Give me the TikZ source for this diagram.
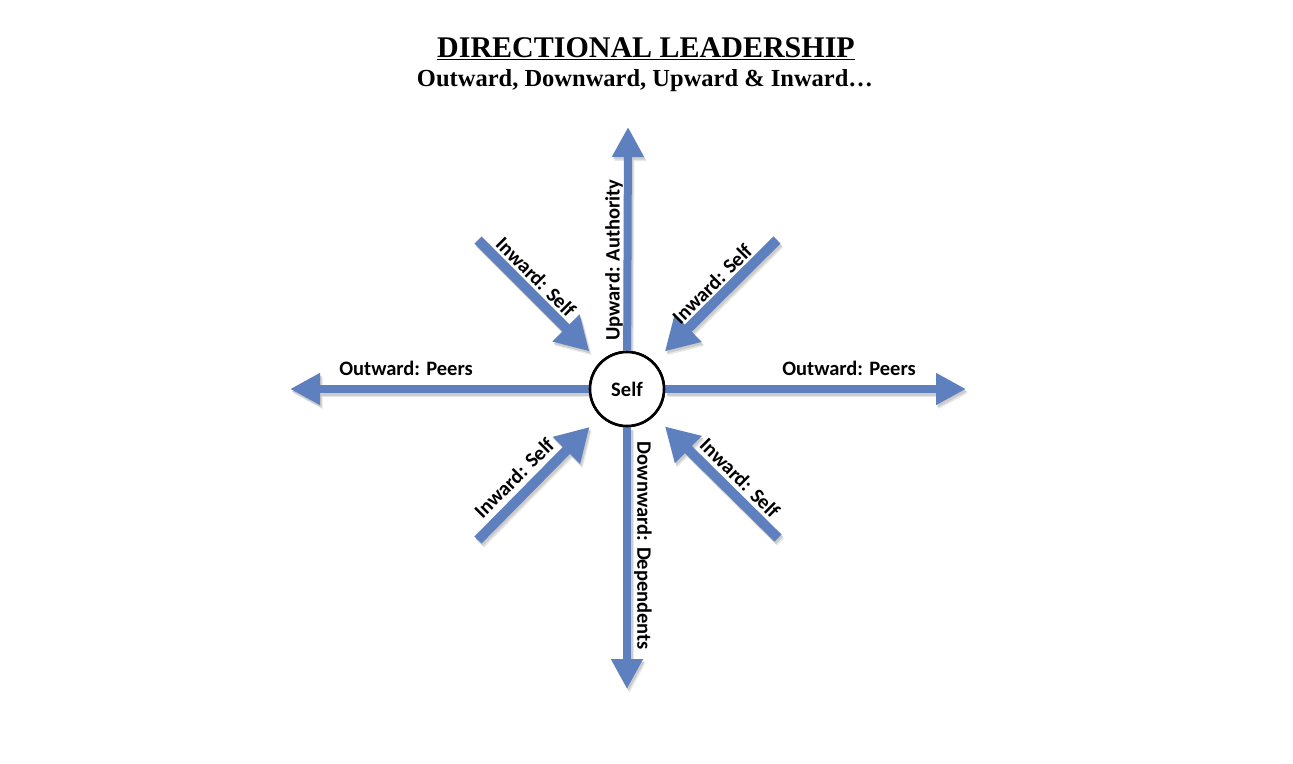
\documentclass[tikz,border=0pt]{standalone}
\usepackage{fontspec}
\setmainfont{Liberation Serif}
\newfontfamily\lblfont{Carlito}
\usetikzlibrary{arrows.meta}
\definecolor{arrowblue}{RGB}{95,128,190}
\newcommand\shadowedarrow[3]{%
  \draw[#1, shadowlinewide] (#2) -- (#3);
  \draw[#1, shadowline] (#2) -- (#3);
  \draw[#1] (#2) -- (#3);}
\begin{document}
\begin{tikzpicture}[x=1pt,y=-1pt,
  outarrow/.style={draw=arrowblue, line width=8pt, -{Triangle[length=30pt,width=30pt]}},
  inarrow/.style={draw=arrowblue, line width=10pt, shorten >=15pt, -{Triangle[length=33pt,width=36pt]}},
  shadowline/.style={draw=black!20, transform canvas={shift={(1.5pt,-2.5pt)}}},
  shadowlinewide/.style={draw=black!9, transform canvas={shift={(2.5pt,-4pt)}}},
  lbl/.style={font=\lblfont\bfseries\fontsize{20.5}{20.5}\selectfont, inner sep=0pt},
  selfnode/.style={draw=black, circle, minimum size=74pt, line width=2.6pt, fill=white, inner sep=0pt, font=\lblfont\bfseries\fontsize{20.5}{20.5}\selectfont}]
\useasboundingbox (0,0) rectangle (1293,763);
\node[selfnode] (self) at (627,389) {Self};
\coordinate (L) at (290,389);
\coordinate (R) at (966,389);
\coordinate (T) at (628,127);
\coordinate (B) at (627,689);
\coordinate (UL) at (478,240);
\coordinate (UR) at (777,240);
\coordinate (LL) at (478,540);
\coordinate (LR) at (778,538);
\shadowedarrow{outarrow}{self}{L}
\shadowedarrow{outarrow}{self}{R}
\shadowedarrow{outarrow}{self}{T}
\shadowedarrow{outarrow}{self}{B}
\shadowedarrow{inarrow}{UL}{self}
\shadowedarrow{inarrow}{UR}{self}
\shadowedarrow{inarrow}{LL}{self}
\shadowedarrow{inarrow}{LR}{self}
\node[selfnode] (self2) at (self) {Self};
\node[lbl] (lo) at (406,368) {Outward: Peers};
\node[lbl] (ro) at (849,368) {Outward: Peers};
\node[lbl, rotate=90] (up) at (614,260) {Upward: Authority};
\node[lbl, rotate=-90] (dn) at (643,546) {Downward: Dependents};
\node[lbl, rotate=-45] (i1) at (536,277) {Inward: Self};
\node[lbl, rotate=45] (i2) at (712,284) {Inward: Self};
\node[lbl, rotate=45] (i3) at (514,478) {Inward: Self};
\node[lbl, rotate=-45] (i4) at (740,478) {Inward: Self};
\node[inner sep=0pt] (title) at (646,49) {\fontsize{30}{30}\selectfont\bfseries\underline{DIRECTIONAL LEADERSHIP}};
\node[inner sep=0pt] (sub) at (645,81) {\fontsize{24.5}{24.5}\selectfont\bfseries Outward, Downward, Upward \& Inward…};
\end{tikzpicture}
\end{document}
